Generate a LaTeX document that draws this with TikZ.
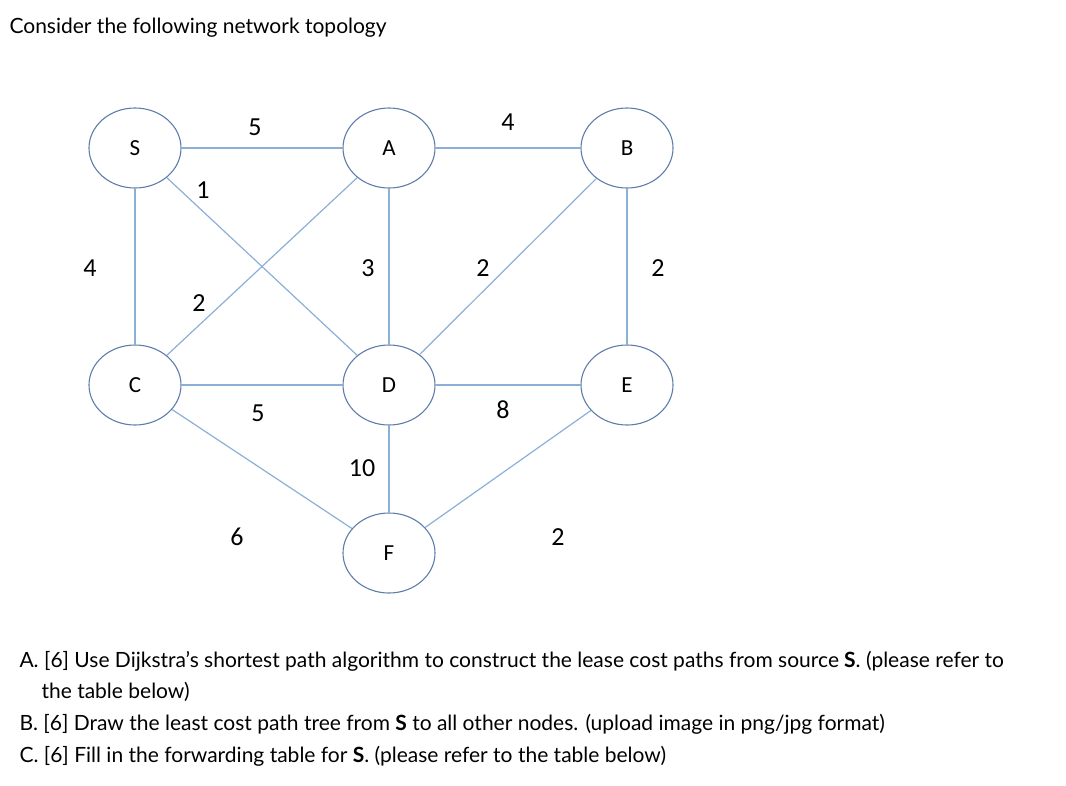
\documentclass[tikz,border=0pt]{standalone}
\usepackage{fontspec}
\setmainfont{Carlito}
\newfontfamily\qfont{Lato}
\usetikzlibrary{shapes.geometric}
\definecolor{edgec}{RGB}{140,175,215}
\definecolor{nodec}{RGB}{95,125,170}
\begin{document}
\begin{tikzpicture}[x=1pt,y=-1pt,
  nd/.style={ellipse,draw=nodec,line width=1.1pt,minimum width=92pt,minimum height=80pt,inner sep=0pt,font=\fontsize{23}{23}\selectfont},
  ed/.style={draw=edgec,line width=1.2pt},
  lb/.style={font=\fontsize{26}{26}\selectfont},
  q/.style={font=\qfont\fontsize{21}{21}\selectfont,anchor=west}]
\useasboundingbox (0,0) rectangle (1066,785);
\node[nd] (S) at (135,148) {S};
\node[nd] (A) at (389,148) {A};
\node[nd] (B) at (627,148) {B};
\node[nd] (C) at (135,385) {C};
\node[nd] (D) at (389,385) {D};
\node[nd] (E) at (627,385) {E};
\node[nd] (F) at (389,553) {F};
\draw[ed] (S)--(A); \draw[ed] (A)--(B); \draw[ed] (S)--(C);
\draw[ed] (S)--(D); \draw[ed] (C)--(A); \draw[ed] (A)--(D);
\draw[ed] (B)--(D); \draw[ed] (B)--(E); \draw[ed] (C)--(D);
\draw[ed] (D)--(E); \draw[ed] (D)--(F); \draw[ed] (C)--(F);
\draw[ed] (F)--(E);
\node[lb] (l1) at (255,127) {5};
\node[lb] (l2) at (508,122) {4};
\node[lb] (l3) at (90,268) {4};
\node[lb] (l4) at (203,190) {1};
\node[lb] (l5) at (199,303) {2};
\node[lb] (l6) at (368,268) {3};
\node[lb] (l7) at (483,268) {2};
\node[lb] (l8) at (658,268) {2};
\node[lb] (l9) at (258,413) {5};
\node[lb] (l10) at (503,410) {8};
\node[lb] (l11) at (362,468) {10};
\node[lb] (l12) at (237,537) {6};
\node[lb] (l13) at (558,537) {2};
\node[q] (t0) at (6,28) {Consider the following network topology};
\node[q] (t1) at (16,661) {A. [6] Use Dijkstra’s shortest path algorithm to construct the lease cost paths from source \textbf{S}. (please refer to};
\node[q] (t2) at (38,692) {the table below)};
\node[q] (t3) at (16,724) {B. [6] Draw the least cost path tree from \textbf{S} to all other nodes. (upload image in png/jpg format)};
\node[q] (t4) at (16,756) {C. [6] Fill in the forwarding table for \textbf{S}. (please refer to the table below)};
\end{tikzpicture}
\end{document}
